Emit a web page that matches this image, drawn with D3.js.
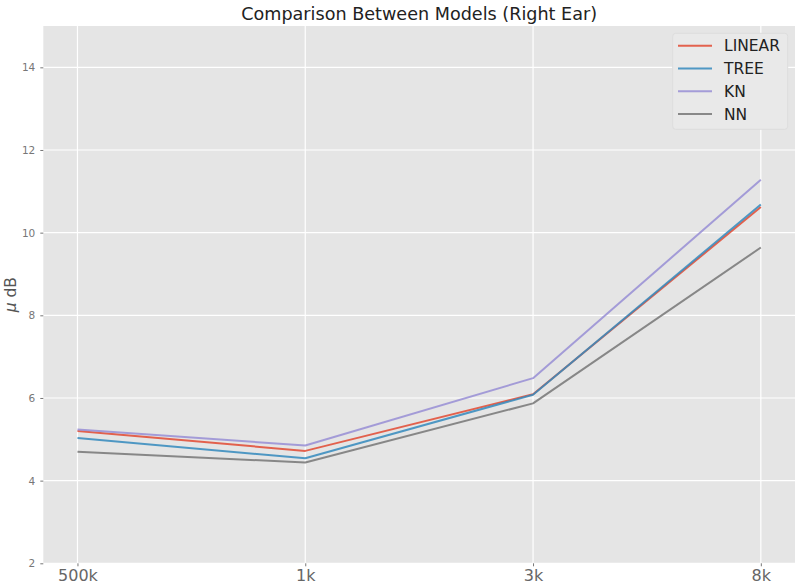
<!DOCTYPE html>
<html><head><meta charset="utf-8">
<script src="https://cdn.jsdelivr.net/npm/d3@7"></script>
<style>body{margin:0;background:#fff;} svg{display:block;font-family:"DejaVu Sans",sans-serif;}</style>
</head><body>
<svg id="c" width="804" height="586"></svg>
<script>
const categories = ["500k", "1k", "3k", "8k"];
const seriesNames = ["LINEAR", "TREE", "KN", "NN"];
const linearVals = [5.20, 4.72, 6.09, 10.62];
const treeVals   = [5.03, 4.54, 6.08, 10.68];
const knVals     = [5.24, 4.85, 6.48, 11.28];
const nnVals     = [4.70, 4.44, 5.87, 9.64];
const yTicks = [2, 4, 6, 8, 10, 12, 14];
const colors = ["#E24A33", "#348ABD", "#988ED5", "#777777"];
const title = "Comparison Between Models (Right Ear)";
const yLabelMu = "\u03BC";
const yLabelRest = " dB";

const series = [linearVals, treeVals, knVals, nnVals].map((v, i) => ({name: seriesNames[i], values: v, color: colors[i]}));

const svg = d3.select("#c");
const L = 43.3, R = 795, T = 26, B = 563.3;
const x = d3.scaleLinear().domain([-0.15, 3.15]).range([L, R]);
const y = d3.scaleLinear().domain([2, 15]).range([B, T]);

svg.append("rect").attr("x", L).attr("y", T).attr("width", R - L).attr("height", B - T).attr("fill", "#E5E5E5");

// grid
const g = svg.append("g");
g.selectAll(".gy").data(yTicks).enter().append("line")
  .attr("x1", L).attr("x2", R).attr("y1", d => y(d)).attr("y2", d => y(d))
  .attr("stroke", "#fff").attr("stroke-width", 1.2);
g.selectAll(".gx").data(categories).enter().append("line")
  .attr("x1", (d, i) => x(i)).attr("x2", (d, i) => x(i)).attr("y1", T).attr("y2", B)
  .attr("stroke", "#fff").attr("stroke-width", 1.2);

// axes
const yAxis = d3.axisLeft(y).tickValues(yTicks).tickSize(3).tickPadding(5);
const ya = svg.append("g").attr("transform", `translate(${L},0)`).call(yAxis);
ya.select(".domain").remove();
ya.selectAll("line").attr("stroke", "#777");
ya.selectAll("text").attr("fill", "#777").style("font-size", "10.5px").style("font-family", "DejaVu Sans");

const xAxis = d3.axisBottom(x).tickValues(d3.range(categories.length)).tickFormat(i => categories[i]).tickSize(3).tickPadding(3);
const xa = svg.append("g").attr("transform", `translate(0,${B})`).call(xAxis);
xa.select(".domain").remove();
xa.selectAll("line").attr("stroke", "#777");
xa.selectAll("text").attr("fill", "#666").style("font-size", "16px").style("font-family", "DejaVu Sans");

// lines
const line = d3.line().x((d, i) => x(i)).y(d => y(d));
svg.append("g").selectAll("path").data(series).enter().append("path")
  .attr("d", d => line(d.values)).attr("fill", "none")
  .attr("stroke", d => d.color).attr("stroke-width", 2).attr("stroke-opacity", 0.85)
  .attr("stroke-linejoin", "round");

// title
svg.append("text").attr("x", (L + R) / 2).attr("y", 20).attr("text-anchor", "middle")
  .style("font-size", "17.6px").attr("fill", "#222").text(title);

// y label
const yl = svg.append("text").attr("transform", `translate(16,${(T + B) / 2}) rotate(-90)`).attr("text-anchor", "middle")
  .style("font-size", "15.5px").attr("fill", "#555");
yl.append("tspan").style("font-style", "italic").text(yLabelMu);
yl.append("tspan").text(yLabelRest);

// legend
const lg = svg.append("g");
lg.append("rect").attr("x", 672.7).attr("y", 33.3).attr("width", 115).attr("height", 96).attr("rx", 3)
  .attr("fill", "#E9E9E9").attr("stroke", "#DDDDDD").attr("stroke-width", 1);
const rows = lg.selectAll(".row").data(series).enter().append("g")
  .attr("transform", (d, i) => `translate(0,${45.7 + i * 22.8})`);
rows.append("line").attr("x1", 678).attr("x2", 712).attr("y1", 0).attr("y2", 0)
  .attr("stroke", d => d.color).attr("stroke-width", 2).attr("stroke-opacity", 0.85);
rows.append("text").attr("x", 724).attr("y", 0).attr("dy", "0.36em")
  .style("font-size", "15.5px").attr("fill", "#222").text(d => d.name);
</script>
</body></html>
